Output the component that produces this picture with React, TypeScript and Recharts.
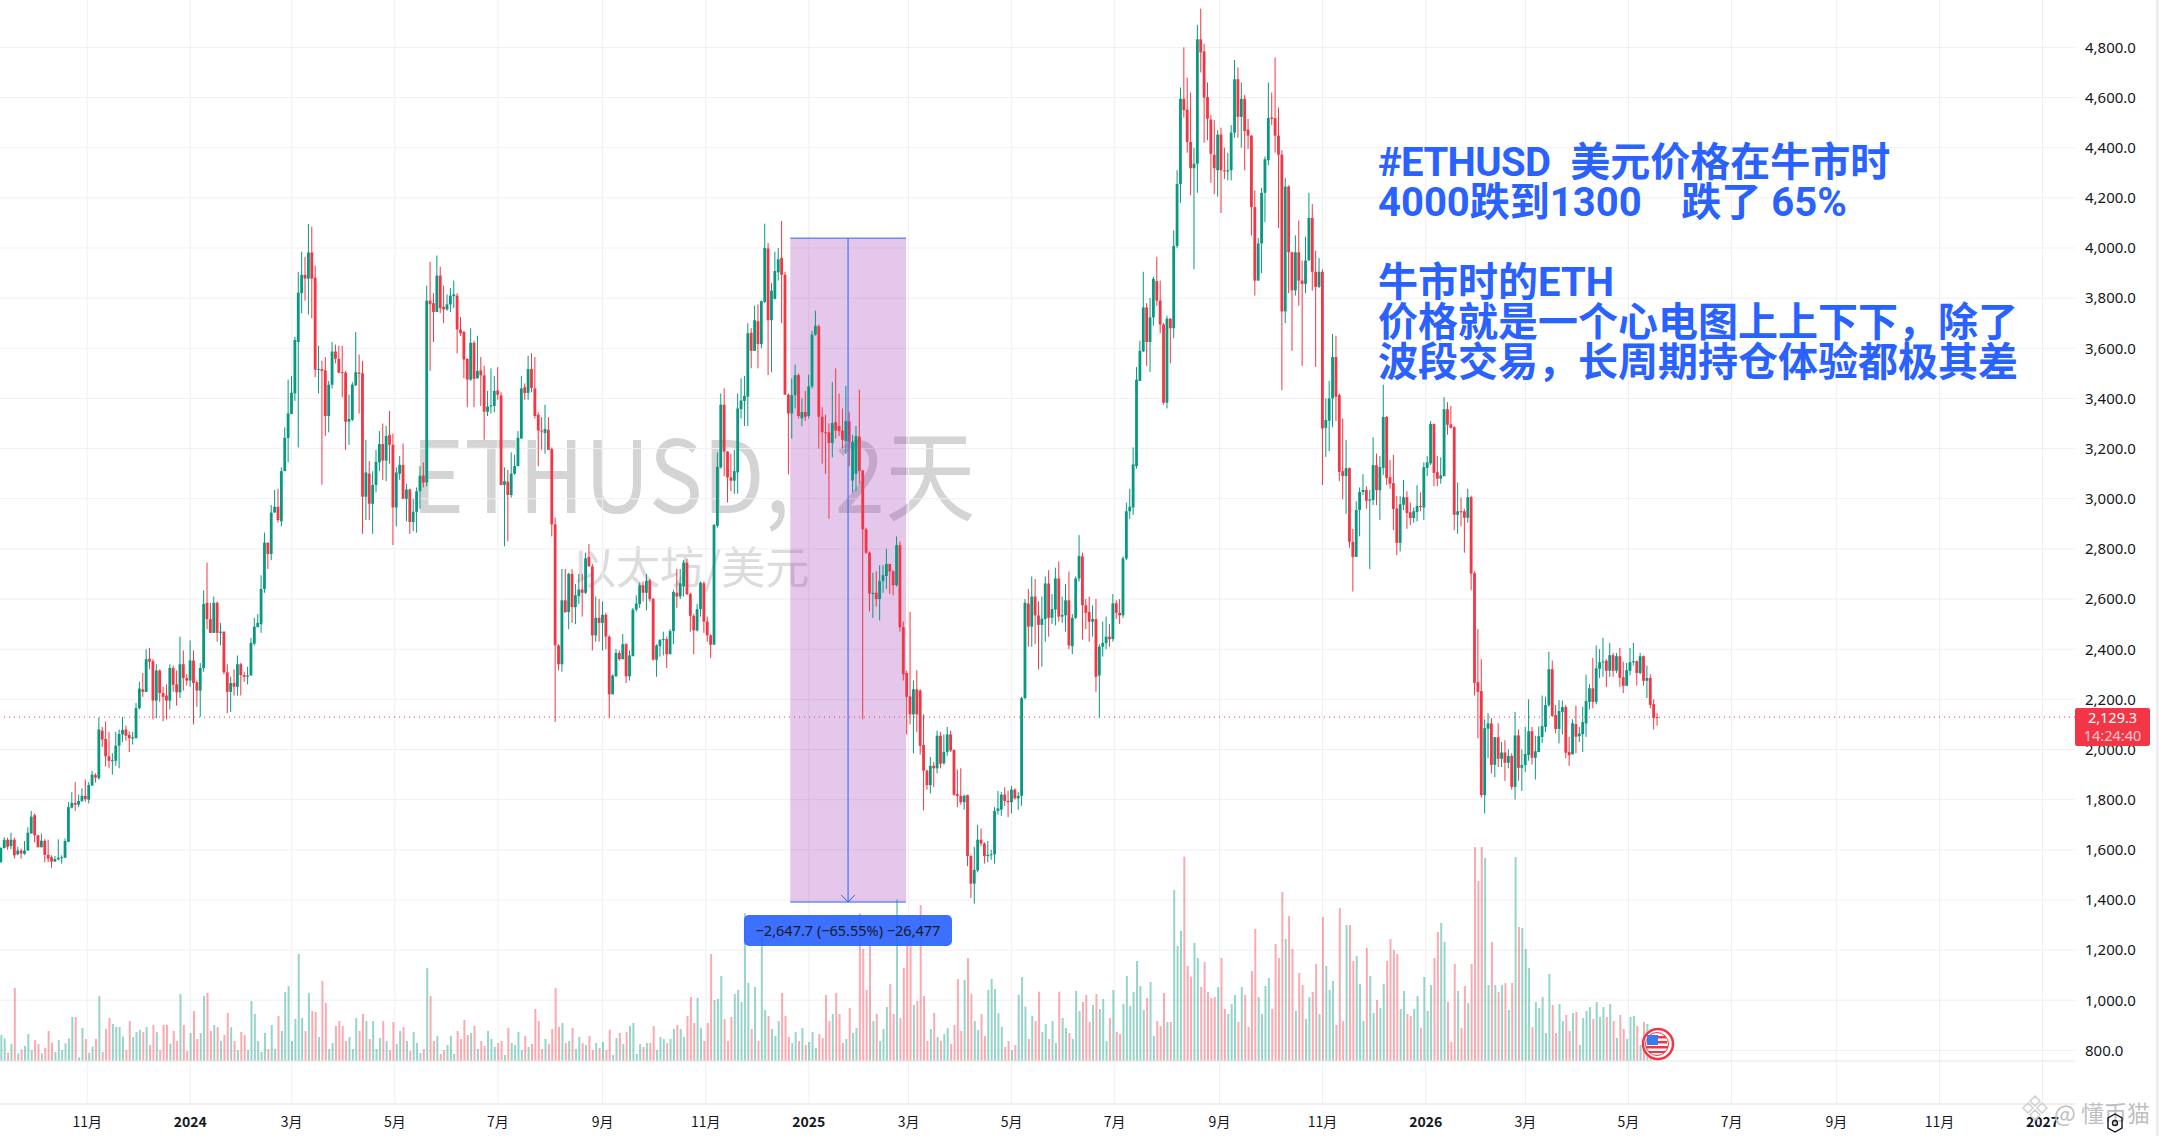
import { Bar, CartesianGrid, ComposedChart, ReferenceArea, ReferenceLine, XAxis, YAxis } from 'recharts';

// [open, high, low, close] for every 2 day candle
const candlesA = [
  [1550,1610,1550,1607],[1607,1650,1605,1640],[1640,1648,1600,1612],[1615,1668,1603,1640],[1640,1648,1565,1578],[1582,1612,1578,1597],[1597,1605,1565,1585],[1584,1635,1580,1597],[1597,1690,1597,1668],[1665,1755,1665,1732],
  [1738,1745,1630,1658],[1658,1660,1610,1610],[1610,1665,1610,1636],[1636,1642,1550,1580],[1580,1640,1550,1565],[1570,1578,1528,1553],[1553,1575,1553,1563],[1562,1642,1558,1568],[1567,1578,1545,1570],[1568,1645,1568,1635],
  [1632,1790,1630,1770],[1768,1830,1765,1787],[1787,1870,1755,1780],[1780,1820,1770,1795],[1795,1845,1790,1815],[1815,1880,1792,1802],[1800,1870,1785,1858],[1856,1915,1855,1900],[1898,1905,1868,1888],[1885,2128,1880,2080],
  [2075,2090,2010,2040],[2042,2112,1932,1973],[1973,2070,1925,1955],[1953,1985,1900,1957],[1955,2070,1935,2015],[2015,2080,1925,2062],[2060,2130,2030,2078],[2080,2095,2035,2055],[2058,2072,1990,2045],[2044,2070,2020,2049],
  [2045,2185,2045,2165],[2165,2270,2160,2243],[2240,2305,2210,2230],[2230,2400,2230,2360],[2362,2405,2320,2350],[2352,2360,2120,2195],[2195,2340,2125,2315],[2315,2320,2190,2225],[2225,2250,2113,2210],[2215,2260,2120,2195],
  [2195,2340,2160,2325],[2325,2335,2230,2258],[2260,2315,2175,2228],[2228,2450,2205,2340],[2340,2395,2235,2285],[2285,2300,2255,2275],[2275,2435,2250,2355],[2355,2395,2100,2265],[2268,2275,2170,2235],[2235,2345,2130,2325],
  [2325,2635,2310,2580],[2585,2745,2480,2520],[2520,2585,2465,2465],[2465,2610,2465,2585],[2585,2590,2430,2465],[2465,2505,2415,2470],[2470,2470,2300,2308],[2308,2340,2145,2230],[2230,2290,2150,2265],[2265,2320,2215,2250],
  [2250,2375,2215,2340],[2340,2345,2215,2297],[2297,2310,2270,2290],[2290,2330,2260,2295],[2295,2445,2295,2425],[2422,2525,2415,2490],[2488,2540,2488,2505],[2500,2695,2465,2640],[2640,2865,2625,2825],[2825,2825,2720,2780],
];
const candlesB = [
  [2780,2975,2755,2945],[2945,3035,2945,2968],[2968,3040,2905,2915],[2910,3125,2890,3110],[3110,3285,3110,3243],[3242,3475,3145,3340],[3338,3490,3340,3423],[3420,3645,3390,3633],[3625,3905,3205,3822],[3820,3985,3740,3893],
  [3893,3965,3790,3878],[3878,4096,3735,3982],[3982,4085,3720,3878],[3882,3930,3485,3515],[3515,3610,3420,3518],[3517,3550,3056,3510],[3512,3565,3250,3330],[3330,3470,3265,3455],[3455,3625,3440,3587],[3587,3615,3540,3558],
  [3558,3610,3500,3503],[3505,3610,3405,3503],[3503,3510,3195,3307],[3307,3415,3215,3318],[3315,3465,3310,3455],[3452,3665,3450,3505],[3503,3575,3340,3498],[3500,3550,2860,3008],[3008,3235,2915,3105],[3100,3150,2915,2980],
  [2980,3110,2860,3055],[3055,3195,3025,3147],[3145,3270,3110,3218],[3218,3300,3075,3152],[3152,3290,3070,3250],[3255,3350,3140,3215],[3215,3260,2815,2965],[2965,3125,2890,3105],[3100,3170,3075,3135],[3135,3220,3000,3000],
  [3000,3060,2910,3037],[3037,3040,2860,2907],[2907,3000,2870,2948],[2948,3045,2865,3030],[3030,3130,2960,3092],[3092,3145,3045,3065],[3065,3850,3050,3790],[3790,3945,3510,3776],[3780,3820,3625,3745],[3745,3970,3745,3890],
  [3890,3925,3740,3760],[3765,3850,3700,3755],[3755,3815,3750,3775],[3775,3840,3745,3810],[3808,3870,3760,3815],[3810,3820,3580,3675],[3675,3725,3650,3660],[3665,3670,3480,3555],[3558,3560,3365,3475],[3475,3680,3470,3622],
  [3622,3630,3365,3478],[3480,3650,3480,3510],[3512,3565,3370,3492],[3492,3530,3235,3347],[3347,3430,3330,3368],[3368,3520,3340,3372],[3370,3490,3345,3430],[3432,3525,3395,3415],[3412,3425,3055,3055],[3055,3125,2810,3070],
  [3068,3115,2830,3015],[3015,3185,3005,3100],[3100,3175,3095,3130],[3130,3270,3130,3243],[3240,3490,3240,3440],[3445,3460,3395,3422],[3422,3570,3395,3517],[3517,3580,3425,3442],[3440,3565,3320,3330],[3335,3345,3130,3272],
];
const candlesC = [
  [3272,3325,3195,3270],[3262,3375,3180,3278],[3275,3325,3195,3195],[3198,3205,2850,2898],[2898,2925,2110,2415],[2415,2420,2315,2340],[2340,2720,2310,2595],[2595,2720,2545,2548],[2548,2705,2480,2700],[2700,2720,2505,2568],
  [2568,2660,2500,2615],[2612,2700,2580,2638],[2638,2700,2530,2625],[2625,2785,2620,2762],[2768,2820,2730,2730],[2730,2740,2395,2455],[2455,2610,2430,2525],[2525,2600,2430,2505],[2505,2590,2395,2537],[2537,2545,2400,2450],
  [2450,2455,2125,2220],[2220,2300,2220,2295],[2292,2400,2290,2385],[2385,2395,2355,2360],[2360,2460,2360,2420],[2420,2425,2265,2292],[2292,2395,2275,2375],[2372,2565,2372,2558],[2558,2615,2550,2582],[2580,2665,2565,2655],
  [2655,2670,2590,2625],[2625,2700,2555,2673],[2673,2680,2590,2600],[2600,2605,2355,2358],[2358,2420,2290,2415],[2412,2440,2370,2437],[2438,2470,2375,2441],[2440,2450,2325,2380],[2380,2480,2380,2472],[2472,2635,2420,2628],
  [2625,2720,2565,2610],[2610,2720,2600,2663],[2650,2755,2610,2745],[2745,2760,2615,2620],[2620,2625,2470,2533],[2533,2540,2380,2475],[2475,2580,2470,2560],[2560,2670,2530,2665],[2663,2670,2465,2510],[2510,2530,2430,2455],
  [2455,2460,2365,2418],[2418,2900,2418,2895],[2892,3185,2885,3127],[3125,3420,3120,3375],[3375,3440,3090,3188],[3188,3190,2985,3085],[3085,3180,3030,3072],[3072,3195,3020,3110],[3105,3420,3020,3360],[3357,3480,3320,3392],
  [3390,3490,3290,3410],[3407,3700,3290,3660],[3662,3680,3520,3590],[3590,3770,3590,3712],[3708,3775,3520,3617],[3617,3790,3600,3788],[3785,4097,3780,4000],[3998,4020,3493,3712],[3712,3860,3505,3830],[3797,3985,3795,3908],
  [3903,4000,3870,3955],[3960,4108,3700,3893],[3893,3905,3415,3415],[3415,3420,3098,3340],[3340,3480,3240,3413],[3413,3535,3360,3493],[3493,3500,3320,3330],[3321,3400,3290,3346],[3346,3430,3310,3327],[3330,3495,3320,3448],
];
const candlesD = [
  [3448,3670,3440,3655],[3655,3750,3650,3690],[3688,3695,3200,3327],[3327,3365,3140,3265],[3265,3335,3100,3262],[3265,3300,2920,3222],[3222,3465,3165,3302],[3306,3520,3240,3272],[3290,3420,3250,3270],[3272,3360,3200,3235],
  [3230,3450,3180,3310],[3308,3345,3130,3228],[3073,3255,3025,3226],[3100,3290,3030,3250],[3248,3435,3060,3110],[3112,3115,2120,2878],[2878,2885,2780,2785],[2785,2790,2550,2622],[2620,2705,2525,2625],[2625,2710,2570,2600],
  [2600,2735,2515,2672],[2672,2735,2625,2695],[2692,2800,2640,2740],[2740,2740,2620,2710],[2710,2715,2615,2655],[2655,2850,2650,2815],[2815,2830,2470,2488],[2488,2510,2275,2300],[2305,2315,2060,2210],[2212,2549,2100,2140],
  [2140,2275,1985,2240],[2240,2316,2070,2140],[2235,2240,1980,2015],[2018,2140,1757,1915],[1915,1920,1840,1858],[1858,1970,1825,1935],[1935,1950,1850,1925],[1925,2075,1905,2055],[2055,2070,1925,1943],[1945,2060,1940,1990],
  [1990,2090,1975,2060],[2060,2075,1990,1996],[1998,2000,1815,1820],[1822,1920,1770,1815],[1815,1925,1780,1790],[1790,1820,1760,1815],[1818,1820,1535,1575],[1575,1580,1408,1465],[1465,1612,1385,1520],[1518,1700,1510,1640],
  [1640,1685,1615,1625],[1625,1630,1545,1575],[1575,1635,1550,1580],[1578,1600,1560,1582],[1582,1770,1545,1755],[1755,1835,1740,1765],[1760,1830,1735,1820],[1820,1850,1775,1795],[1795,1835,1730,1790],[1790,1855,1745,1840],
  [1840,1845,1800,1805],[1805,1830,1760,1815],[1815,2210,1775,2205],[2205,2600,2200,2585],[2582,2640,2410,2490],[2490,2690,2410,2610],[2610,2680,2420,2535],[2535,2590,2320,2497],[2497,2610,2330,2522],[2520,2690,2430,2662],
  [2662,2715,2450,2525],[2525,2620,2500,2560],[2558,2725,2495,2682],[2682,2750,2510,2530],[2530,2610,2505,2537],[2535,2660,2470,2595],[2595,2710,2400,2415],[2412,2540,2380,2525],[2525,2690,2520,2682],[2682,2855,2670,2772],
  [2770,2785,2438,2575],[2575,2600,2480,2545],[2548,2610,2430,2510],[2510,2575,2450,2520],[2520,2600,2230,2290],[2295,2420,2125,2410],
];
const candlesE = [
  [2410,2510,2370,2425],[2425,2530,2400,2450],[2450,2500,2410,2440],[2440,2620,2430,2583],[2583,2595,2520,2545],[2545,2600,2500,2535],[2535,2770,2525,2762],[2762,2985,2755,2950],[2950,3040,2920,2968],[2965,3205,2935,3137],
  [3130,3525,3120,3475],[3470,3630,3470,3590],[3588,3905,3585,3763],[3763,3780,3530,3625],[3625,3800,3506,3723],[3723,3885,3690,3877],[3868,3965,3770,3790],[3790,3870,3660,3695],[3695,3700,3375,3383],[3383,3730,3360,3718],
  [3718,3720,3540,3680],[3680,4070,3640,4008],[4008,4310,4000,4255],[4255,4640,4180,4595],[4595,4800,4520,4550],[4552,4680,4380,4423],[4423,4620,4210,4318],[4318,4400,3915,4336],[4336,4890,4220,4832],[4832,4955,4700,4780],
  [4784,4815,4420,4600],[4602,4660,4430,4515],[4512,4530,4260,4376],[4372,4510,4215,4318],[4310,4470,4205,4452],[4452,4480,4140,4310],[4310,4400,4275,4306],[4305,4380,4270,4310],[4310,4490,4270,4460],[4460,4750,4440,4673],
  [4673,4720,4440,4523],[4523,4660,4400,4595],[4595,4610,4310,4467],[4472,4515,4395,4448],[4448,4450,4050,4163],[4163,4230,3810,3870],[3870,4040,3870,4018],[4018,4240,3900,4220],[4220,4365,4103,4354],[4350,4660,4330,4518],
  [4520,4620,4490,4515],[4518,4760,4380,4448],[4448,4560,4080,4372],[4372,4390,3433,3747],[3747,4280,3700,4245],[4245,4250,3820,3983],[3983,3985,3590,3831],[3831,4050,3810,3983],[3983,4110,3770,3870],[3870,3950,3530,3857],
  [3857,4045,3820,3950],[3950,4220,3950,4120],[4120,4175,3830,3905],[3905,3990,3525,3845],[3845,3960,3840,3905],[3905,3915,3055,3280],
];
const candlesF = [
  [3283,3400,3167,3314],[3311,3470,3190,3400],[3400,3657,3285,3565],[3565,3650,3310,3407],[3413,3420,3070,3107],[3110,3320,2998,3091],[3091,3235,2940,3122],[3122,3125,2805,2828],[2828,2880,2630,2768],[2768,2990,2768,2955],
  [2955,3045,2850,3027],[3027,3098,3015,3035],[3035,3050,2960,2992],[2992,3035,2720,2997],[2995,3245,2975,3134],[3134,3180,2975,3034],[3034,3170,2915,3126],[3123,3455,3095,3326],[3326,3330,3055,3083],[3086,3155,3040,3060],
  [3062,3175,2875,2959],[2961,3010,2775,2824],[2824,3010,2790,2978],[2976,3075,2955,3006],[3006,3030,2880,2943],[2946,2985,2895,2923],[2923,2965,2905,2950],[2947,3054,2910,2971],[2971,3025,2950,2967],[2965,3145,2915,3126],
  [3123,3170,3090,3145],[3141,3310,3135,3298],[3298,3300,3050,3103],[3106,3170,3050,3080],[3080,3165,3060,3093],[3090,3405,3090,3357],[3357,3385,3255,3295],[3297,3370,3280,3283],[3285,3290,2875,2936],[2936,3065,2860,2950],
  [2950,3005,2890,2948],[2950,2960,2785,2924],[2924,3040,2905,3006],[3006,3012,2635,2701],[2703,2710,2215,2266],[2269,2480,2045,2230],[2233,2360,1808,1818],[1818,2120,1745,2085],[2083,2145,1965,2104],[2104,2125,1905,1939],
  [1939,2050,1890,2049],[2049,2105,1930,1963],[1963,2030,1930,1988],[1988,2037,1875,1947],[1947,2000,1925,1974],[1974,1985,1840,1851],[1851,2150,1800,2056],[2056,2080,1875,1927],[1927,2000,1835,1938],[1938,2090,1910,1982],
  [1978,2200,1955,2073],[2073,2090,1940,1967],[1967,2055,1880,1993],[1990,2092,1990,2053],[2050,2215,2025,2093],[2090,2210,2070,2177],[2177,2390,2170,2320],[2320,2355,2130,2134],[2137,2177,2065,2082],[2082,2197,2024,2153],
  [2150,2195,2060,2169],[2169,2178,1965,1987],[1990,2050,1935,1977],[1981,2120,1980,2105],[2101,2175,1985,2051],[2053,2090,2030,2064],[2061,2170,1990,2109],[2104,2298,2050,2193],[2190,2260,2160,2244],[2244,2365,2165,2190],
  [2190,2415,2180,2324],[2322,2400,2285,2348],[2348,2445,2290,2351],[2354,2360,2250,2314],[2314,2425,2290,2376],[2376,2385,2290,2314],[2314,2385,2305,2372],[2372,2405,2250,2286],[2288,2350,2225,2254],[2254,2345,2254,2316],
  [2314,2405,2295,2348],[2348,2425,2335,2352],[2352,2355,2255,2305],[2305,2385,2300,2372],[2372,2375,2255,2274],[2274,2335,2205,2285],[2285,2300,2165,2178],[2181,2200,2080,2126],[2129.5,2145,2095,2129.3],
];

const volumesA = [78,68,25,51,219,23,35,45,81,33,63,51,23,39,90,55,27,63,33,53,68,132,132,11,99,66,25,43,66,195,27,96,129,111,102,102,73,33,120,72,87,93,87,102,48,108,87,33,108,108];
const volumesB = [52,90,60,201,108,30,84,150,66,84,195,204,90,108,102,60,78,144,102,60,33,87,78,33,180,141,60,27,84,36,108,36,135,90,207,225,60,126,321,129,90,204,150,147,72,240,174,36,54,105];
const volumesC = [120,105,60,72,36,129,90,141,120,66,120,36,69,120,60,33,117,51,90,102,60,30,87,54,24,36,279,195,60,75,21,33,48,75,21,90,66,123,78,84,105,36,60,45,90,66,42,54,60,18];
const volumesD = [99,54,48,87,33,75,42,51,156,120,36,66,51,96,219,102,114,54,60,99,36,72,54,48,75,33,54,39,57,33,93,18,69,84,51,87,105,114,21,51,42,54,54,105,33,72,66,54,66,96];
const volumesE = [108,96,72,135,192,114,189,99,60,114,321,183,186,255,126,60,132,201,213,177,443,234,96,222,60,371,153,135,96,75,120,204,135,72,54,87,60,99,48,57,87,39,81,69,198,120,141,204,141,54];
const volumesF = [66,159,84,99,443,336,213,348,120,141,60,96,162,231,141,485,129,279,355,378,168,180,468,195,60,96,144,72,60,81,99,51,108,246,90,243,309,201,120,93,141,75,213,246,216,144,102,42,60,33];
const volumesG = [48,198,252,163,66,135,120,208,87,111,66,120,54,208,129,99,84,66,210,150,177,198,117,168,201,156,186,60,129,213,87,81,171,255,165,207,300,225,153,189,237,75,120,105,204,117,117,513,345,390];
const volumesH = [613,285,253,354,309,222,297,207,189,192,222,309,156,141,171,198,117,222,198,102,270,396,192,141,225,249,156,351,309,507,366,435,336,150,264,228,126,192,207,291,141,432,285,213,240,108,459,120,408,408];
const volumesI = [300,315,231,120,339,255,144,183,159,231,300,366,333,321,156,210,141,135,156,195,99,252,150,228,309,387,414,357,177,57,291,210,99,225,174,291,642,540,642,609,228,357,228,207,228,234,153,234,612,402];
const volumesJ = [399,336,279,102,177,159,192,84,261,168,84,171,120,138,90,144,147,48,129,150,162,126,177,132,162,132,171,120,69,138,96,66,132,135,105,48,117,111,96,43,23];

const priceTicks = [800,1000,1200,1400,1600,1800,2000,2200,2400,2600,2800,3000,3200,3400,3600,3800,4000,4200,4400,4600,4800];
// days since the first candle, 2023-09-11
const timeTicks = [51,112,172,233,294,356,417,478,537,598,659,721,782,843,902,963,1024,1086,1147,1208];
const timeLabels = ['11月','2024','3月','5月','7月','9月','11月','2025','3月','5月','7月','9月','11月','2026','3月','5月','7月','9月','11月','2027'];

const lastPrice = 2129.3;
// measure tool, in days and price
const measureStart = 467;
const measureEnd = 535.5;
const measureMid = 501.2;
const measureTop = 4039.3;
const measureBottom = 1391.6;

const UP = '#089981';
const DOWN = '#F23645';
const GRID = '#f0f0f0';
const BLUE = '#2962FF';
const CJK = '"Noto Sans CJK SC", "Noto Sans", sans-serif';
const LATIN = '"Noto Sans", sans-serif';

const candles = [...candlesA, ...candlesB, ...candlesC, ...candlesD, ...candlesE, ...candlesF];
const volumes = [...volumesA, ...volumesB, ...volumesC, ...volumesD, ...volumesE, ...volumesF, ...volumesG, ...volumesH, ...volumesI, ...volumesJ];

const data = candles.map(([open, high, low, close], i) => ({
  day: i * 2,
  open,
  high,
  low,
  close,
  volume: volumes[i],
}));

const CandleShape = ({ x, y, width, height, payload }: any) => {
  const { open, high, low, close } = payload;
  const color = close >= open ? UP : DOWN;
  const perPrice = height / (high - low);
  const bodyTop = y + (high - Math.max(open, close)) * perPrice;
  const bodyHeight = Math.max(Math.abs(open - close) * perPrice, 1);
  const mid = x + width / 2;
  return (
    <g>
      <rect x={mid - 0.5} y={y} width={1} height={height} fill={color} />
      <rect x={mid - 1.4} y={bodyTop} width={2.8} height={bodyHeight} fill={color} />
    </g>
  );
};

const VolumeShape = ({ x, y, width, height, payload }: any) => (
  <rect x={x} y={y} width={width} height={height} fill={payload.close >= payload.open ? UP : DOWN} fillOpacity={0.42} />
);

const TimeTick = ({ x, y, payload }: any) => {
  const label = timeLabels[timeTicks.indexOf(payload.value)];
  const isYear = label.length === 4;
  return (
    <text x={x} y={y + 15} textAnchor='middle' fontSize={14} fontFamily={CJK} fontWeight={isYear ? 700 : 400} fill='#131722'>
      {label}
    </text>
  );
};

const Flag = () => (
  <svg width={34} height={34} viewBox='0 0 34 34' style={{ position: 'absolute', left: 1641, top: 1027, zIndex: 3 }}>
    <circle cx={17} cy={17} r={15} fill='#fff' stroke={DOWN} strokeWidth={2.5} />
    <circle cx={16} cy={17} r={11.5} fill='#fff' stroke={DOWN} strokeWidth={1} />
    <rect x={7} y={9} width={18} height={2.5} fill={DOWN} />
    <rect x={6} y={14} width={20} height={2.5} fill={DOWN} />
    <rect x={5} y={19} width={22} height={2.5} fill={DOWN} />
    <rect x={8} y={24} width={16} height={2} fill={DOWN} />
    <rect x={6} y={8} width={11} height={10} fill='#3C78F0' />
  </svg>
);

const App = () => (
  <div style={{ position: 'absolute', left: 0, top: 0, width: 2159, height: 1136, overflow: 'hidden', background: '#fff', fontFamily: CJK }}>
    <div style={{ position: 'absolute', left: 411, top: 403, fontSize: 100, lineHeight: '134px', color: '#d4d4d4', whiteSpace: 'pre', wordSpacing: 27, transform: 'scaleX(0.905)', transformOrigin: 'left top' }}>ETHUSD, 2天</div>
    <div style={{ position: 'absolute', left: 572, top: 542, fontSize: 44, lineHeight: '46px', color: '#dcdcdc', whiteSpace: 'pre' }}>以太坊/美元</div>

    <div style={{ position: 'absolute', left: 0, top: 0, zIndex: 1 }}>
      <ComposedChart width={2159} height={1136} data={data} margin={{ top: 0, right: 0, bottom: 0, left: 0 }}>
        <CartesianGrid yAxisId='price' stroke={GRID} verticalValues={timeTicks} horizontalValues={priceTicks} />
        <XAxis
          type='number'
          dataKey='day'
          domain={[-0.6, 1227.2]}
          ticks={timeTicks}
          interval={0}
          height={32}
          tick={<TimeTick />}
          tickLine={false}
          stroke='#e0e0e0'
        />
        <XAxis xAxisId='vol' hide type='number' dataKey='day' domain={[-0.6, 1227.2]} />
        <YAxis
          yAxisId='price'
          orientation='right'
          domain={[586.2, 4989]}
          ticks={priceTicks}
          interval={0}
          width={84}
          axisLine={false}
          tickLine={false}
          tickMargin={4}
          tick={{ fontSize: 15, fill: '#131722', fontFamily: LATIN }}
          tickFormatter={(v) => v.toLocaleString('en-US', { minimumFractionDigits: 1 })}
        />
        <YAxis yAxisId='vol' hide domain={[-129, 3183]} />
        <ReferenceArea yAxisId='price' x1={measureStart} x2={measureEnd} y1={measureBottom} y2={measureTop} fill='#9C27B0' fillOpacity={0.26} stroke='none' />
        <ReferenceLine yAxisId='vol' y={0} stroke='#e6e6e6' />
        <Bar xAxisId='vol' yAxisId='vol' dataKey='volume' barSize={2} shape={<VolumeShape />} isAnimationActive={false} />
        <Bar
          yAxisId='price'
          dataKey={(d: any) => [d.low, d.high]}
          barSize={3}
          shape={<CandleShape />}
          isAnimationActive={false}
        />
        <ReferenceLine yAxisId='price' y={lastPrice} stroke={DOWN} strokeDasharray='1 4' />
        <ReferenceLine yAxisId='price' segment={[{ x: measureStart, y: measureTop }, { x: measureEnd, y: measureTop }]} stroke={BLUE} />
        <ReferenceLine yAxisId='price' segment={[{ x: measureStart, y: measureBottom }, { x: measureEnd, y: measureBottom }]} stroke={BLUE} />
        <ReferenceLine yAxisId='price' segment={[{ x: measureMid, y: measureTop }, { x: measureMid, y: measureBottom }]} stroke={BLUE} />
        <ReferenceLine yAxisId='price' segment={[{ x: measureMid - 4, y: measureBottom + 28 }, { x: measureMid, y: measureBottom }]} stroke={BLUE} />
        <ReferenceLine yAxisId='price' segment={[{ x: measureMid + 4, y: measureBottom + 28 }, { x: measureMid, y: measureBottom }]} stroke={BLUE} />
      </ComposedChart>
    </div>

    <div style={{ position: 'absolute', left: 744, top: 915, width: 208, height: 31, borderRadius: 5, background: 'rgba(45,100,255,0.92)', color: '#1a1a1a', fontSize: 14.5, lineHeight: '31px', textAlign: 'center', zIndex: 2, fontFamily: LATIN, whiteSpace: 'pre' }}>
      −2,647.7 (−65.55%) −26,477
    </div>

    <div style={{ position: 'absolute', left: 1378, top: 143, fontSize: 40, lineHeight: '40px', fontWeight: 700, color: BLUE, whiteSpace: 'pre', zIndex: 2, fontFamily: `Roboto, ${CJK}` }}>
      <span style={{ letterSpacing: -0.6 }}>#ETHUSD</span>
      {'  美元价格在牛市时\n4000跌到1300    跌了 65%\n\n牛市时的ETH\n价格就是一个心电图上上下下，除了\n波段交易，长周期持仓体验都极其差'}
    </div>

    <div style={{ position: 'absolute', left: 2075, top: 708, width: 75, height: 38, borderRadius: 2, background: DOWN, color: '#fff', textAlign: 'center', fontSize: 14.5, lineHeight: '18px', zIndex: 2, fontFamily: LATIN }}>
      <div>2,129.3</div>
      <div style={{ opacity: 0.7 }}>14:24:40</div>
    </div>

    <Flag />

    <svg width={28} height={26} viewBox='0 0 28 26' style={{ position: 'absolute', left: 2021, top: 1095, zIndex: 3 }}>
      <path d='M14 1 L19 6 L14 11 L9 6 Z M7 8 L12 13 L7 18 L2 13 Z M21 8 L26 13 L21 18 L16 13 Z M14 15 L19 20 L14 25 L9 20 Z' fill='none' stroke='#d0d0d0' strokeWidth={1.5} />
    </svg>
    <div style={{ position: 'absolute', left: 2054, top: 1095, fontSize: 23, lineHeight: '34px', color: '#c0c0c0', whiteSpace: 'pre', zIndex: 3 }}>@ 懂币猫</div>
    <svg width={18} height={20} viewBox='0 0 18 20' style={{ position: 'absolute', left: 2106, top: 1113, zIndex: 3 }}>
      <path d='M9 1 L16 5 L16 15 L9 19 L2 15 L2 5 Z' fill='none' stroke='#131722' strokeWidth={1.4} />
      <circle cx={9} cy={10} r={2.5} fill='none' stroke='#131722' strokeWidth={1.4} />
    </svg>
    <div style={{ position: 'absolute', left: 2156, top: 0, width: 3, height: 1136, background: '#eeeeee', zIndex: 3 }} />
  </div>
);

export default App;
